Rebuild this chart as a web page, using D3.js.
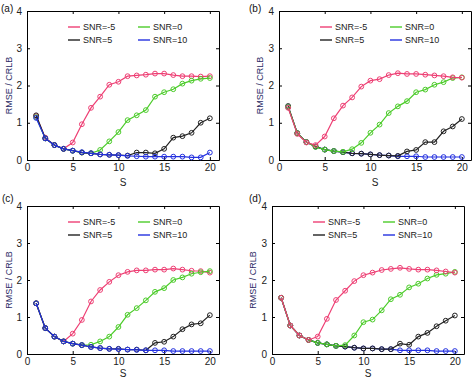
<!DOCTYPE html>
<html>
<head>
<meta charset="utf-8">
<script src="https://cdn.jsdelivr.net/npm/d3@7"></script>
<style>
  body { margin: 0; background: #fff; }
  svg { font-family: "Liberation Sans", Arial, sans-serif; }
  .axis path, .axis line { stroke: #000; }
  .axis text { fill: #222; font-size: 10px; }
</style>
</head>
<body>
<div class="chart"></div>
<script>
//data
var S = [1, 2, 3, 4, 5, 6, 7, 8, 9, 10, 11, 12, 13, 14, 15, 16, 17, 18, 19, 20];
var xTicks = [0, 5, 10, 15, 20];
var yTicks = [0, 1, 2, 3, 4];
var seriesNames = ["SNR=-5", "SNR=0", "SNR=5", "SNR=10"];

//panel (a)
var aSnrM5 = [1.18, 0.6, 0.4, 0.3, 0.47, 0.96, 1.4, 1.7, 2.02, 2.1, 2.25, 2.27, 2.29, 2.32, 2.32, 2.28, 2.25, 2.25, 2.24, 2.25];
var aSnr0  = [1.15, 0.58, 0.4, 0.3, 0.25, 0.2, 0.18, 0.27, 0.5, 0.75, 1.07, 1.2, 1.34, 1.7, 1.82, 1.9, 2.05, 2.13, 2.18, 2.2];
var aSnr5  = [1.2, 0.58, 0.4, 0.3, 0.25, 0.2, 0.18, 0.15, 0.14, 0.13, 0.12, 0.2, 0.2, 0.18, 0.3, 0.6, 0.64, 0.73, 1.0, 1.12];
var aSnr10 = [1.13, 0.58, 0.4, 0.3, 0.25, 0.21, 0.18, 0.15, 0.14, 0.13, 0.11, 0.1, 0.09, 0.09, 0.09, 0.09, 0.09, 0.07, 0.07, 0.2];

//panel (b)
var bSnrM5 = [1.4, 0.7, 0.47, 0.4, 0.63, 1.12, 1.46, 1.68, 1.97, 2.13, 2.17, 2.28, 2.33, 2.31, 2.31, 2.29, 2.27, 2.25, 2.22, 2.21];
var bSnr0  = [1.42, 0.72, 0.48, 0.35, 0.28, 0.24, 0.22, 0.29, 0.46, 0.73, 0.95, 1.26, 1.44, 1.58, 1.82, 1.89, 2.02, 2.09, 2.2, 2.22];
var bSnr5  = [1.45, 0.72, 0.48, 0.36, 0.28, 0.24, 0.21, 0.18, 0.17, 0.15, 0.13, 0.12, 0.11, 0.23, 0.27, 0.48, 0.48, 0.77, 0.9, 1.1];
var bSnr10 = [1.42, 0.72, 0.48, 0.36, 0.28, 0.24, 0.21, 0.18, 0.17, 0.15, 0.13, 0.12, 0.1, 0.1, 0.1, 0.08, 0.08, 0.08, 0.08, 0.08];

//panel (c)
var cSnrM5 = [1.37, 0.7, 0.47, 0.34, 0.55, 0.92, 1.42, 1.73, 1.95, 2.13, 2.22, 2.26, 2.26, 2.28, 2.28, 2.31, 2.28, 2.25, 2.24, 2.2];
var cSnr0  = [1.37, 0.7, 0.47, 0.34, 0.28, 0.24, 0.25, 0.34, 0.47, 0.73, 1.06, 1.24, 1.45, 1.68, 1.78, 2.0, 2.07, 2.17, 2.21, 2.24];
var cSnr5  = [1.37, 0.7, 0.47, 0.34, 0.28, 0.24, 0.19, 0.16, 0.14, 0.14, 0.12, 0.12, 0.1, 0.3, 0.33, 0.47, 0.67, 0.8, 0.83, 1.05];
var cSnr10 = [1.37, 0.7, 0.47, 0.34, 0.28, 0.24, 0.19, 0.16, 0.14, 0.13, 0.12, 0.11, 0.1, 0.1, 0.1, 0.08, 0.08, 0.08, 0.08, 0.08];

//panel (d)
var dSnrM5 = [1.52, 0.77, 0.5, 0.38, 0.47, 0.95, 1.46, 1.71, 1.97, 2.13, 2.2, 2.27, 2.3, 2.33, 2.3, 2.28, 2.28, 2.26, 2.23, 2.2];
var dSnr0  = [1.52, 0.77, 0.5, 0.38, 0.3, 0.26, 0.22, 0.24, 0.5, 0.86, 0.93, 1.18, 1.48, 1.6, 1.8, 1.9, 2.04, 2.14, 2.17, 2.22];
var dSnr5  = [1.52, 0.77, 0.5, 0.38, 0.3, 0.26, 0.22, 0.2, 0.17, 0.15, 0.15, 0.13, 0.13, 0.28, 0.25, 0.47, 0.57, 0.75, 0.9, 1.04];
var dSnr10 = [1.52, 0.77, 0.5, 0.38, 0.3, 0.26, 0.22, 0.2, 0.17, 0.15, 0.15, 0.13, 0.13, 0.1, 0.1, 0.1, 0.1, 0.08, 0.08, 0.08];

//set global variables
var width = 474,
    height = 381,
    plotW = 192;

var colors = ["#ee3f74", "#4ccc2a", "#222222", "#2431e0"];

//panel layout (pixels)
var panels = [
  {tag: "(a)", series: [aSnrM5, aSnr0, aSnr5, aSnr10], order: [0, 1, 2, 3], left: 27, top: 11, bottom: 160, tagX: 1, tagY: 12, yLabX: 12, sY: 186},
  {tag: "(b)", series: [bSnrM5, bSnr0, bSnr5, bSnr10], order: [3, 2, 1, 0], left: 279, top: 11, bottom: 160, tagX: 249, tagY: 12, yLabX: 263, sY: 186},
  {tag: "(c)", series: [cSnrM5, cSnr0, cSnr5, cSnr10], order: [0, 1, 2, 3], left: 27, top: 206, bottom: 354, tagX: 2, tagY: 202, yLabX: 12, sY: 377},
  {tag: "(d)", series: [dSnrM5, dSnr0, dSnr5, dSnr10], order: [3, 2, 1, 0], left: 272, top: 206, bottom: 354, tagX: 249, tagY: 202, yLabX: 256, sY: 377}
];

//set svg container
var svg = d3.select(".chart").append("svg")
            .attr("width", width)
            .attr("height", height);

panels.forEach(function(p) {
  var xScale = d3.scaleLinear().domain([0, 21]).range([p.left, p.left + plotW]);
  var yScale = d3.scaleLinear().domain([0, 4]).range([p.bottom, p.top]);
  var g = svg.append("g");

  //axes with inward ticks on all four sides
  g.append("g").attr("class", "axis")
   .attr("transform", "translate(0," + p.bottom + ")")
   .call(d3.axisBottom(xScale).tickValues(xTicks).tickFormat(d3.format("d")).tickSizeInner(-3).tickSizeOuter(0).tickPadding(4));
  g.append("g").attr("class", "axis")
   .attr("transform", "translate(0," + p.top + ")")
   .call(d3.axisTop(xScale).tickValues(xTicks).tickSizeInner(-3).tickSizeOuter(0).tickFormat(""));
  g.append("g").attr("class", "axis")
   .attr("transform", "translate(" + p.left + ",0)")
   .call(d3.axisLeft(yScale).tickValues(yTicks).tickFormat(d3.format("d")).tickSizeInner(-3).tickSizeOuter(0).tickPadding(5));
  g.append("g").attr("class", "axis")
   .attr("transform", "translate(" + (p.left + plotW) + ",0)")
   .call(d3.axisRight(yScale).tickValues(yTicks).tickSizeInner(-3).tickSizeOuter(0).tickFormat(""));

  //lines and open circle markers
  var line = d3.line()
               .x(function(d, i) { return xScale(S[i]); })
               .y(function(d) { return yScale(d); });

  p.order.forEach(function(k) {
    var values = p.series[k];
    g.append("path")
     .attr("d", line(values))
     .attr("fill", "none")
     .attr("stroke", colors[k])
     .attr("stroke-width", 1.2);
    g.selectAll(".m" + k)
     .data(values)
     .enter()
     .append("circle")
     .attr("cx", function(d, i) { return xScale(S[i]); })
     .attr("cy", function(d) { return yScale(d); })
     .attr("r", 2.4)
     .attr("fill", "none")
     .attr("stroke", colors[k])
     .attr("stroke-width", 1);
  });

  //legend
  seriesNames.forEach(function(name, k) {
    var lx = p.left + (k % 2 === 0 ? 41 : 111);
    var ly = p.top + (k < 2 ? 16 : 29);
    g.append("line")
     .attr("x1", lx).attr("x2", lx + 12)
     .attr("y1", ly).attr("y2", ly)
     .attr("stroke", colors[k])
     .attr("stroke-width", 1.4);
    g.append("text")
     .attr("x", lx + 15)
     .attr("y", ly + 3.3)
     .attr("font-size", "9px")
     .attr("fill", "#222")
     .text(name);
  });

  //axis titles and panel tag
  g.append("text")
   .attr("x", p.left + plotW / 2)
   .attr("y", p.sY)
   .attr("text-anchor", "middle")
   .attr("font-size", "10px")
   .attr("fill", "#222")
   .text("S");
  g.append("text")
   .attr("transform", "translate(" + p.yLabX + "," + ((p.top + p.bottom) / 2) + ") rotate(-90)")
   .attr("text-anchor", "middle")
   .attr("font-size", "9px")
   .attr("fill", "#2c2c66")
   .text("RMSE / CRLB");
  g.append("text")
   .attr("x", p.tagX)
   .attr("y", p.tagY)
   .attr("font-size", "10px")
   .attr("fill", "#111")
   .text(p.tag);
});
</script>
</body>
</html>
